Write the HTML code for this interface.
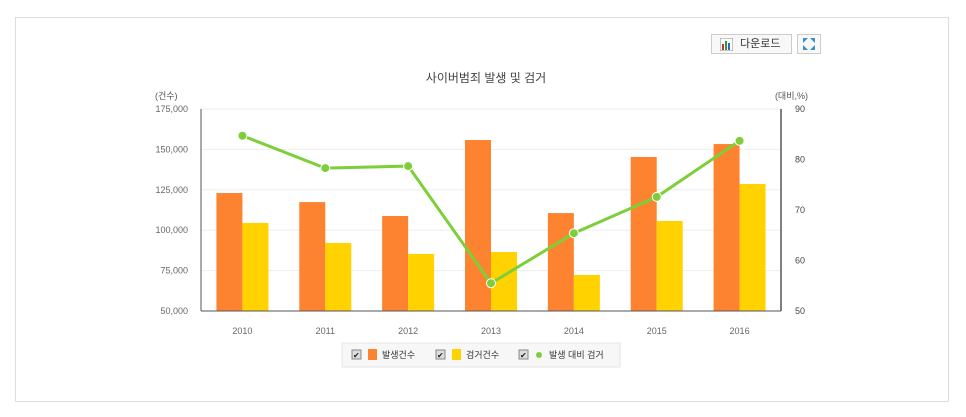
<!DOCTYPE html>
<html><head><meta charset="utf-8"><style>
body{margin:0;width:966px;height:417px;background:#fff;font-family:"Liberation Sans","Noto Sans CJK KR",sans-serif;overflow:hidden}
#frame{position:absolute;left:15px;top:17px;width:932px;height:383px;border:1px solid #ddd}
.btn{position:absolute;top:34px;height:20px;border:1px solid #ccc;background:#f8f8f8;font-size:11px;color:#333;box-sizing:border-box}
</style></head><body>
<div id="frame"></div>
<div class="btn" style="left:711px;width:81px;line-height:18px;padding-left:28px">다운로드
<svg style="position:absolute;left:8px;top:3px" width="13" height="13"><rect x="0" y="0" width="13" height="13" fill="#fff" stroke="#888"/><rect x="2" y="6" width="2" height="6" fill="#c33"/><rect x="5" y="3" width="2" height="9" fill="#393"/><rect x="8" y="5" width="2" height="7" fill="#36c"/></svg></div>
<div class="btn" style="left:797px;width:24px">
<svg width="22" height="18"><g fill="#3a8fd0"><path d="M5 3h5l-5 5z"/><path d="M17 3h-5l5 5z"/><path d="M5 15h5l-5-5z"/><path d="M17 15h-5l5-5z"/></g></svg></div>
<svg id="chart" width="966" height="417" style="position:absolute;left:0;top:0"></svg>
<script>
const categories=["2010","2011","2012","2013","2014","2015","2016"];
const occurred=[123000,117400,108800,155800,110600,145300,153300];
const arrested=[104500,92100,85300,86500,72300,105700,128600];
const ratio=[84.7,78.3,78.7,55.5,65.4,72.6,83.7];
const leftTicks=[50000,75000,100000,125000,150000,175000];
const rightTicks=[50,60,70,80,90];
const svg=document.getElementById('chart');const NS='http://www.w3.org/2000/svg';
function mk(t,a,txt){const e=document.createElementNS(NS,t);for(const k in a)e.setAttribute(k,a[k]);if(txt!=null)e.textContent=txt;svg.appendChild(e);return e;}
const X0=201,X1=781,Y0=311,Y1=109;
const yL=v=>Y0-(v-50000)/125000*(Y0-Y1);
const yR=v=>Y0-(v-50)/40*(Y0-Y1);
const band=(X1-X0)/categories.length;
const cx=i=>X0+band*(i+0.5);
let t=mk('text',{x:486,y:82,'text-anchor':'middle','font-size':12,fill:'#444'},'사이버범죄 발생 및 검거');
t=mk('text',{x:155,y:99,'font-size':9,fill:'#555'},'(건수)');
t=mk('text',{x:808,y:99,'text-anchor':'end','font-size':9,fill:'#555'},'(대비,%)');
leftTicks.forEach(v=>{const y=yL(v);
 if(v>50000){const g=mk('line',{x1:X0,x2:X1,y1:y,y2:y,stroke:'#eee'});}
 const l=mk('text',{x:188,y:y+3,'text-anchor':'end','font-size':9,fill:'#666'},v.toLocaleString('en-US'));});
rightTicks.forEach(v=>{const l=mk('text',{x:795,y:yR(v)+3,'font-size':9,fill:'#444'},String(v));});
categories.forEach((c,i)=>{const bw=26;
 let b=mk('rect',{x:cx(i)-bw,y:yL(occurred[i]),width:bw,height:Y0-yL(occurred[i]),fill:'#fd8330'});
 b=mk('rect',{x:cx(i),y:yL(arrested[i]),width:bw,height:Y0-yL(arrested[i]),fill:'#ffd200'});
 const l=mk('text',{x:cx(i),y:334,'text-anchor':'middle','font-size':9,fill:'#666'},c);});
let ax=mk('line',{x1:X0,x2:X0,y1:Y1,y2:Y0,stroke:'#555'});
ax=mk('line',{x1:X1,x2:X1,y1:Y1,y2:Y0,stroke:'#555','stroke-width':1.5});
ax=mk('line',{x1:X0,x2:X1,y1:Y0,y2:Y0,stroke:'#555'});
const pl=mk('polyline',{points:ratio.map((v,i)=>cx(i)+','+yR(v)).join(' '),fill:'none',stroke:'#7dcf3a','stroke-width':3});
ratio.forEach((v,i)=>{const p=mk('circle',{cx:cx(i),cy:yR(v),r:4.5,fill:'#7dcf3a',stroke:'#fff','stroke-width':1});});
const lg=mk('rect',{x:342,y:343,width:278,height:24,fill:'#f7f7f7',stroke:'#e5e5e5'});
[[352,'#fd8330','발생건수','rect'],[436,'#ffd200','검거건수','rect'],[519,'#7dcf3a','발생 대비 검거','dot']].forEach(([x,c,n,k],i)=>{
 const cb=mk('rect',{x:x,y:350,width:9,height:9,fill:'#ddd',stroke:'#888'});
 mk('text',{x:x+1,y:358,'font-size':8,fill:'#222'},'✔');
 let m;if(k=='rect')m=mk('rect',{x:x+16,y:349,width:9,height:11,fill:c});else m=mk('circle',{cx:x+20,cy:355,r:3,fill:c});
 
 const l=mk('text',{x:x+30,y:358,'font-size':9,fill:'#333'},n);});
</script>
</body></html>
